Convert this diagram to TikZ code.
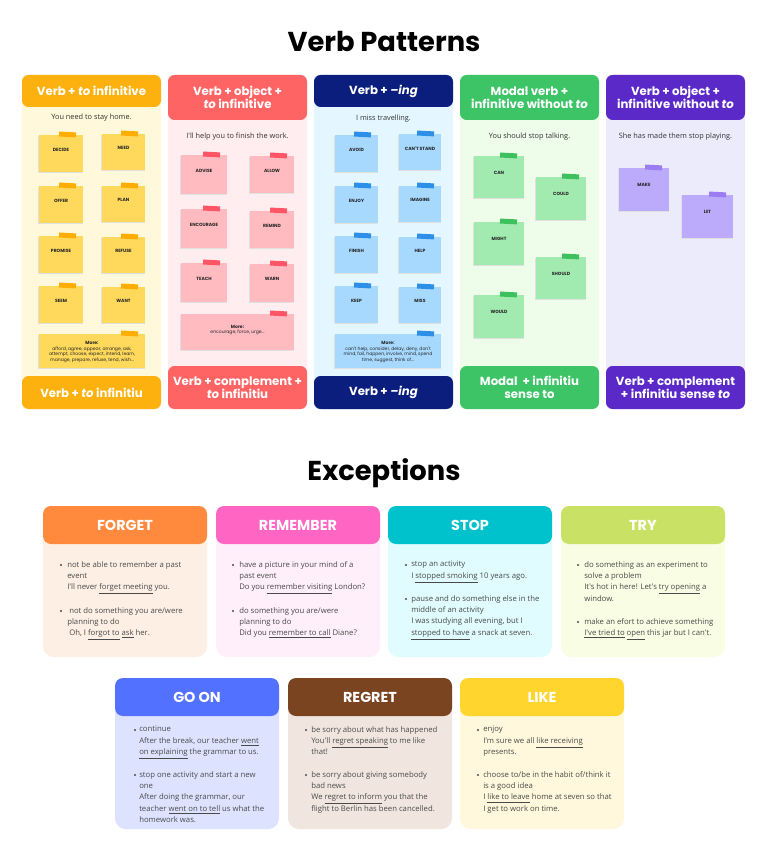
\documentclass[tikz,border=0pt]{standalone}
\usepackage{fontspec}
\newfontfamily\hd{Poppins}
\newfontfamily\bd{Open Sans}
\definecolor{c1h}{HTML}{FDB10E}\definecolor{c1b}{HTML}{FFF8DA}\definecolor{c1n}{HTML}{FFD95C}\definecolor{c1t}{HTML}{FFAE00}
\definecolor{c2h}{HTML}{FF6464}\definecolor{c2b}{HTML}{FFEDEF}\definecolor{c2n}{HTML}{FFBBC0}\definecolor{c2t}{HTML}{FF5567}
\definecolor{c3h}{HTML}{0B1E7D}\definecolor{c3b}{HTML}{E4F6FF}\definecolor{c3n}{HTML}{A7D9FF}\definecolor{c3t}{HTML}{2E8FE9}
\definecolor{c4h}{HTML}{3DC467}\definecolor{c4b}{HTML}{EEFDEA}\definecolor{c4n}{HTML}{A1EBB0}\definecolor{c4t}{HTML}{3DC15F}
\definecolor{c5h}{HTML}{5B29C8}\definecolor{c5b}{HTML}{ECEBFC}\definecolor{c5n}{HTML}{BCAAFA}\definecolor{c5t}{HTML}{9C7CF1}
\definecolor{fgh}{HTML}{FF8A3E}\definecolor{fgb}{HTML}{FDEFE4}
\definecolor{rmh}{HTML}{FF66C4}\definecolor{rmbg}{HTML}{FFEFFA}
\definecolor{sth}{HTML}{00C2CC}\definecolor{stb}{HTML}{E0FCFF}
\definecolor{tyh}{HTML}{C9E265}\definecolor{tyb}{HTML}{F8FDE3}
\definecolor{goh}{HTML}{5271FF}\definecolor{gob}{HTML}{DDE3FF}
\definecolor{rgth}{HTML}{7B4420}\definecolor{rgtb}{HTML}{F0E6DF}
\definecolor{lkh}{HTML}{FFD52E}\definecolor{lkb}{HTML}{FFF8DC}
\definecolor{txt}{HTML}{4A4A4A}
\tikzset{
 hdrtxt/.style={font=\hd\bfseries\fontsize{8.8}{10}\selectfont, text=white, align=center, inner sep=0},
 extxt/.style={font=\bd\fontsize{5.5}{7}\selectfont, text=black!80, inner sep=0},
 notelbl/.style={font=\hd\bfseries\fontsize{3.4}{4.1}\selectfont, text=black!85, align=center, inner sep=0},
 morelbl/.style={font=\hd\fontsize{3.4}{4.1}\selectfont, text=black!85, align=center, inner sep=0},
 cardhdr/.style={font=\hd\bfseries\fontsize{10.8}{12}\selectfont, text=white, inner sep=0},
 body/.style={font=\bd\fontsize{5.8}{8.5}\selectfont, text=txt, align=left, inner sep=0, anchor=north west},
 title/.style={font=\hd\bfseries\fontsize{20.5}{24}\selectfont, text=black, inner sep=0},
}
\newcommand\stk[8]{%
 \fill[black!12] ({#2-0.8},{#3+1}) rectangle ({#4-0.3},{#5+1});
 \fill[#6] (#2,#3) rectangle (#4,#5);
 \node[notelbl] (#1) at ({(#2+#4)/2},{#3+0.4*(#5-#3)}) {#8};
 \fill[#7, rotate around={-3:({#4-15},{#3})}] ({#4-24},{#3-3}) rectangle ({#4-7},{#3+2});
}
\newcommand\mycol[8]{% x, hdrbottom, ftrtop, hdr, bg, name, hdrtext, ftrtext
 \fill[#5, rounded corners=3pt] (#1,75) rectangle ({#1+139},409);
 \fill[#4, rounded corners=5pt] (#1,75) rectangle ({#1+139},#2);
 \fill[#4, rounded corners=5pt] (#1,#3) rectangle ({#1+139},409);
 \node[hdrtxt] (#6h) at ({#1+69.5},{(75+#2)/2}) {#7};
 \node[hdrtxt] (#6f) at ({#1+69.5},{(#3+409)/2}) {#8};
}
\newcommand\card[6]{% name,x,y,hdr,bg,title
 \fill[#5, rounded corners=8pt] (#2,#3) rectangle ({#2+164},{#3+151});
 \fill[#4, rounded corners=6pt] (#2,#3) rectangle ({#2+164},{#3+38});
 \node[cardhdr] (#1) at ({#2+82},{#3+19}) {#6};
}
\newcommand\bul[1]{\fill[txt] #1 circle (1.1);}
\begin{document}
\begin{tikzpicture}[x=0.75pt,y=-0.75pt]
\useasboundingbox (0,0) rectangle (768,862);
\fill[white] (0,0) rectangle (768,862);
\node[title] (t1) at (384,42) {Verb Patterns};
% columns
\mycol{22}{107}{376}{c1h}{c1b}{a}{Verb + \textit{to} infinitive}{Verb + \textit{to} infinitiu}
\mycol{168}{120}{366}{c2h}{c2b}{b}{Verb + object +\\\textit{to} infinitive}{Verb + complement +\\\textit{to} infinitiu}
\mycol{314}{107}{376}{c3h}{c3b}{c}{Verb + \textit{–ing}}{Verb + \textit{–ing}}
\mycol{460}{120}{366}{c4h}{c4b}{d}{Modal verb +\\infinitive without \textit{to}}{Modal\ \ + infinitiu\\sense to}
\mycol{606}{120}{366}{c5h}{c5b}{e}{Verb + object +\\infinitive without \textit{to}}{Verb + complement\\+ infinitiu sense \textit{to}}
\node[extxt] (as) at (91.5,118) {You need to stay home.};
\node[extxt] (bs) at (237.5,137) {I'll help you to finish the work.};
\node[extxt] (cs) at (383.5,119) {I miss travelling.};
\node[extxt] (ds) at (529.5,137) {You should stop talking.};
\node[extxt] (es) at (675.5,137) {She has made them stop playing.};
% col1 notes
\stk{a1}{39}{135}{83}{172}{c1n}{c1t}{DECIDE}
\stk{a2}{102}{134}{145}{170}{c1n}{c1t}{NEED}
\stk{a3}{39}{186}{83}{223}{c1n}{c1t}{OFFER}
\stk{a4}{102}{186}{145}{222}{c1n}{c1t}{PLAN}
\stk{a5}{39}{236}{83}{273}{c1n}{c1t}{PROMISE}
\stk{a6}{102}{237}{145}{273}{c1n}{c1t}{REFUSE}
\stk{a7}{39}{286}{83}{323}{c1n}{c1t}{SEEM}
\stk{a8}{102}{287}{145}{323}{c1n}{c1t}{WANT}
\stk{a9}{39}{334}{145}{368}{c1n}{c1t}{}
\node[morelbl] (a9t) at (92,352) {\textbf{More:}\\afford, agree, appear, arrange, ask,\\attempt, choose, expect, intend, learn,\\manage, prepare, refuse, tend, wish...};
% col2 notes
\stk{b1}{181}{155}{227}{194}{c2n}{c2t}{ADVISE}
\stk{b2}{250}{156}{294}{193}{c2n}{c2t}{ALLOW}
\stk{b3}{181}{209}{227}{248}{c2n}{c2t}{ENCOURAGE}
\stk{b4}{250}{211}{294}{248}{c2n}{c2t}{REMIND}
\stk{b5}{181}{263}{227}{302}{c2n}{c2t}{TEACH}
\stk{b6}{250}{264}{294}{302}{c2n}{c2t}{WARN}
\stk{b7}{181}{314}{294}{350}{c2n}{c2t}{}
\node[morelbl] (b7t) at (237.5,330) {\textbf{More:}\\encourage, force, urge...};
% col3 notes
\stk{c1}{335}{135}{378}{172}{c3n}{c3t}{AVOID}
\stk{c2}{399}{134}{441}{170}{c3n}{c3t}{CAN'T STAND}
\stk{c3}{335}{186}{378}{223}{c3n}{c3t}{ENJOY}
\stk{c4}{399}{186}{441}{222}{c3n}{c3t}{IMAGINE}
\stk{c5}{335}{236}{378}{273}{c3n}{c3t}{FINISH}
\stk{c6}{399}{237}{441}{273}{c3n}{c3t}{HELP}
\stk{c7}{335}{286}{378}{323}{c3n}{c3t}{KEEP}
\stk{c8}{399}{287}{441}{323}{c3n}{c3t}{MISS}
\stk{c9}{335}{334}{441}{368}{c3n}{c3t}{}
\node[morelbl] (c9t) at (388,352) {\textbf{More:}\\can't help, consider, delay, deny, don't\\mind, fail, happen, involve, mind, spend\\time, suggest, think of...};
% col4 notes
\stk{d1}{474}{156}{524}{198}{c4n}{c4t}{CAN}
\stk{d2}{536}{177}{586}{220}{c4n}{c4t}{COULD}
\stk{d3}{474}{222}{524}{265}{c4n}{c4t}{MIGHT}
\stk{d4}{536}{257}{586}{299}{c4n}{c4t}{SHOULD}
\stk{d5}{474}{295}{524}{338}{c4n}{c4t}{WOULD}
% col5 notes
\stk{e1}{619}{168}{669}{211}{c5n}{c5t}{MAKE}
\stk{e2}{682}{195}{733}{238}{c5n}{c5t}{LET}
% exceptions
\node[title] (t2) at (384,473) {Exceptions};
\card{fg}{43}{506}{fgh}{fgb}{FORGET}
\card{rm}{216}{506}{rmh}{rmbg}{REMEMBER}
\card{st}{388}{506}{sth}{stb}{STOP}
\card{ty}{561}{506}{tyh}{tyb}{TRY}
\card{go}{115}{678}{goh}{gob}{GO ON}
\card{rg}{288}{678}{rgth}{rgtb}{REGRET}
\card{lk}{460}{678}{lkh}{lkb}{LIKE}
% forget
\bul{(61,565)}\node[body] (fg1) at (67,561) {not be able to remember a past\\event\\I'll never \underline{forget meeting} you.};
\bul{(61,611)}\node[body] (fg2) at (67,607) {\ not do something you are/were\\planning to do\\\ Oh, I \underline{forgot to} \underline{ask} her.};
% remember
\bul{(233,565)}\node[body] (rm1) at (239,561) {have a picture in your mind of a\\past event\\Do you \underline{remember visiting} London?};
\bul{(233,611)}\node[body] (rm2) at (239,607) {do something you are/were\\planning to do\\Did you \underline{remember to call} Diane?};
% stop
\bul{(406,565)}\node[body] (st1) at (411,561) {stop an activity\\I \underline{stopped smoking} 10 years ago.};
\bul{(406,599)}\node[body] (st2) at (411,595) {pause and do something else in the\\middle of an activity\\I was studying all evening, but I\\\underline{stopped to have} a snack at seven.};
% try
\bul{(578,565)}\node[body] (ty1) at (584,561) {do something as an experiment to\\solve a problem\\It's hot in here! Let's \underline{try opening} a\\window.};
\bul{(578,622)}\node[body] (ty2) at (584,618) {make an efort to achieve something\\\underline{I've tried to} \underline{open} this jar but I can't.};
% go on
\bul{(135,730)}\node[body] (go1) at (139,726) {continue\\After the break, our teacher \underline{went}\\\underline{on explaining} the grammar to us.};
\bul{(135,775)}\node[body] (go2) at (139,771) {stop one activity and start a new\\one\\After doing the grammar, our\\teacher \underline{went on to tell} us what the\\homework was.};
% regret
\bul{(306,730)}\node[body] (rg1) at (311,726) {be sorry about what has happened\\You'll \underline{regret speaking} to me like\\that!};
\bul{(306,775)}\node[body] (rg2) at (311,771) {be sorry about giving somebody\\bad news\\We \underline{regret to inform} you that the\\flight to Berlin has been cancelled.};
% like
\bul{(478,730)}\node[body] (lk1) at (483,726) {enjoy\\I'm sure we all \underline{like receiving}\\presents.};
\bul{(478,775)}\node[body] (lk2) at (483,771) {choose to/be in the habit of/think it\\is a good idea\\I \underline{like to leave} home at seven so that\\I get to work on time.};
\end{tikzpicture}
\end{document}
